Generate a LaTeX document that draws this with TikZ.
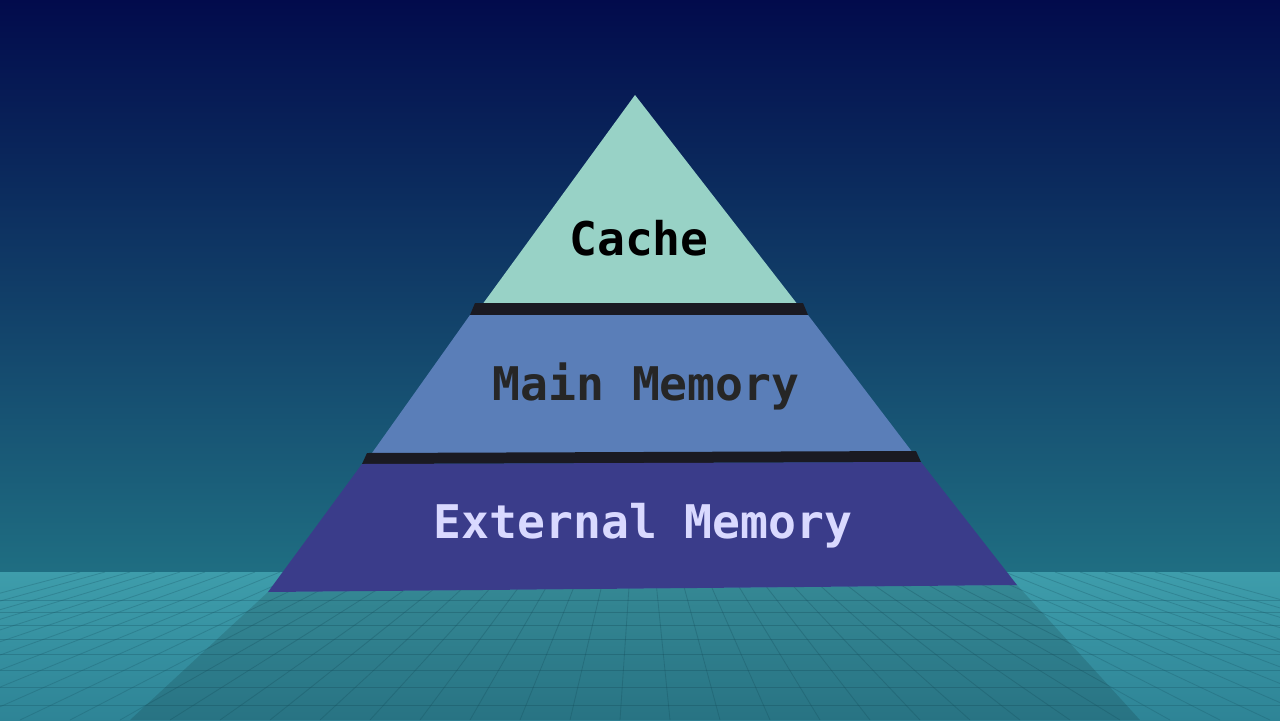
\documentclass[tikz,border=0pt]{standalone}
\usepackage{fontspec}
\newfontfamily\mono{DejaVu Sans Mono}
\definecolor{skytop}{HTML}{020B4C}
\definecolor{skybot}{HTML}{1F6E82}
\definecolor{floortop}{HTML}{3E9DAB}
\definecolor{floorbot}{HTML}{2E8496}
\definecolor{cachec}{HTML}{98D2C6}
\definecolor{mainc}{HTML}{5A7EB8}
\definecolor{extc}{HTML}{3A3C8A}
\definecolor{bar}{HTML}{1A1A22}
\begin{document}
\begin{tikzpicture}[x=0.05cm,y=-0.05cm,
  tier/.style={draw=none},
  lbl/.style={font=\mono\bfseries\fontsize{66}{70}\selectfont}]
\useasboundingbox (0,0) rectangle (1280,720);
\shade[top color=skytop,bottom color=skybot] (0,0) rectangle (1280,572);
\shade[top color=floortop,bottom color=floorbot] (0,572) rectangle (1280,720);
% floor grid
\foreach \y in {600,612,625,639,654,670,687,705}
  \draw[skybot!80!black,opacity=0.35,line width=1.2pt] (0,\y) -- (1280,\y);
\foreach \x in {-1600,-1500,...,2800}
  \draw[skybot!80!black,opacity=0.3,line width=1.2pt] (640+0.25*\x-160,572) -- (640+\x/2-320,720);
% shadow
\fill[black,opacity=0.12] (268,592) -- (1017,585) -- (1140,720) -- (130,720) -- cycle;
% tiers
\fill[tier,cachec] (635,95) -- (482,305) -- (798,305) -- cycle;
\fill[bar] (475,303) -- (803,303) -- (808,315) -- (470,315) -- cycle;
\fill[tier,mainc] (470,315) -- (808,315) -- (913,453) -- (372,453) -- cycle;
\fill[bar] (367,453) -- (916,451) -- (921,462) -- (362,464) -- cycle;
\fill[tier,extc] (362,464) -- (921,462) -- (1017,585) -- (268,592) -- cycle;
\node[lbl,text=black] (cache) at (639,238) {Cache};
\node[lbl,text=black!85] (main) at (646,386) {Main Memory};
\node[lbl,text=white!85!blue] (ext) at (643,526) {External Memory};
\end{tikzpicture}
\end{document}
